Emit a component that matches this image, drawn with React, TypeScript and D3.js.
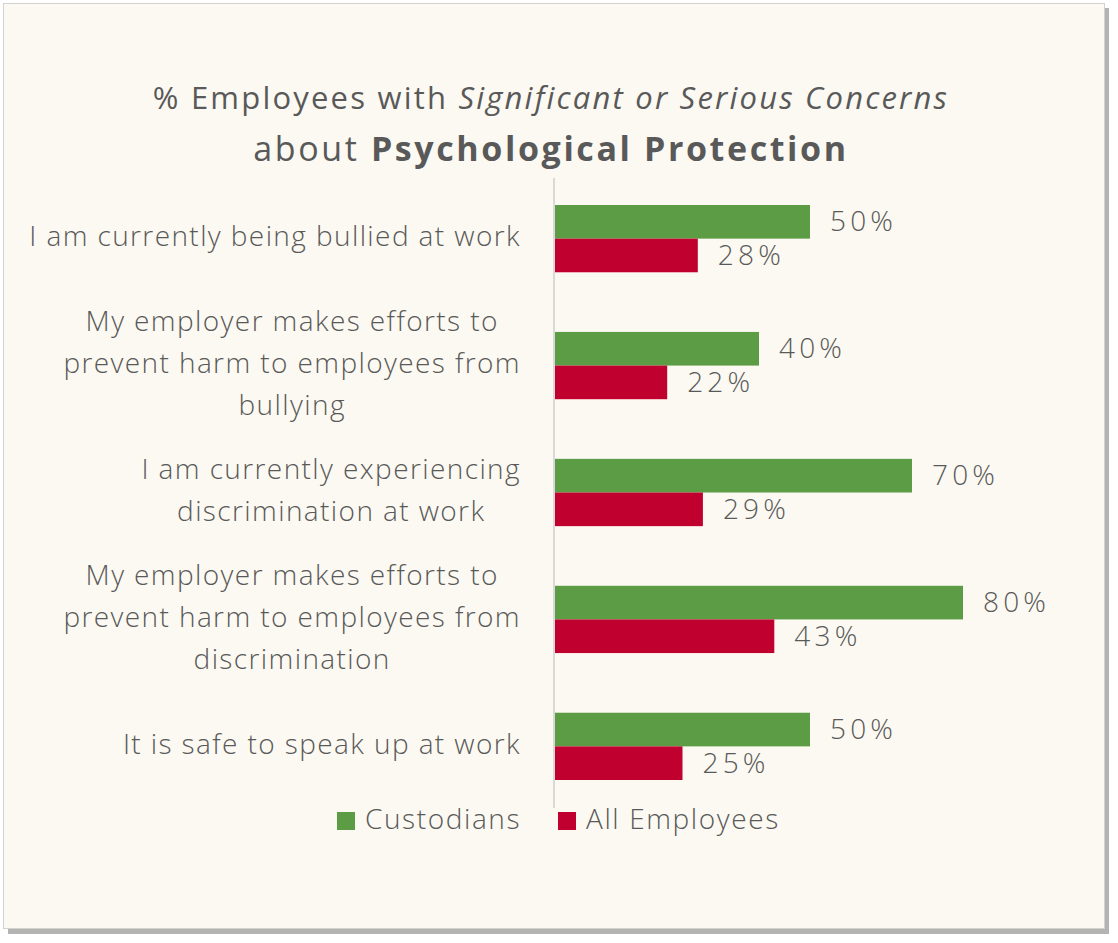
import React, { useEffect, useRef } from "react";
import * as d3 from "d3";

const categories = [
  ["I am currently being bullied at work"],
  ["My employer makes efforts to", "prevent harm to employees from", "bullying"],
  ["I am currently experiencing", "discrimination at work"],
  ["My employer makes efforts to", "prevent harm to employees from", "discrimination"],
  ["It is safe to speak up at work"],
];
const custodians = [50, 40, 70, 80, 50];
const allEmployees = [28, 22, 29, 43, 25];
const seriesNames = ["Custodians", "All Employees"];
const colors = ["#5B9C44", "#C0002F"];

const App = () => {
  const ref = useRef<SVGSVGElement>(null);

  useEffect(() => {
    const svg = d3.select(ref.current);
    svg.selectAll("*").remove();
    const font = "'Open Sans', sans-serif";
    const textColor = "#595959";

    // frame with shadow
    svg.append("rect").attr("x", 8).attr("y", 8).attr("width", 1101).attr("height", 926).attr("fill", "#b3b3b3");
    svg.append("rect").attr("x", 3.5).attr("y", 3.5).attr("width", 1101).attr("height", 925)
      .attr("fill", "#FCF9F2").attr("stroke", "#d4d2cc");

    // title
    const t1 = svg.append("text").attr("x", 551).attr("y", 109).attr("text-anchor", "middle")
      .attr("font-family", font).attr("font-size", 31).attr("fill", textColor).attr("letter-spacing", 2.2);
    t1.append("tspan").text("% Employees with ");
    t1.append("tspan").attr("font-style", "italic").text("Significant or Serious Concerns");
    const t2 = svg.append("text").attr("x", 551).attr("y", 161).attr("text-anchor", "middle")
      .attr("font-family", font).attr("font-size", 34).attr("fill", textColor).attr("letter-spacing", 2.6);
    t2.append("tspan").text("about ");
    t2.append("tspan").attr("font-weight", "bold").text("Psychological Protection");

    const left = 555;
    const x = d3.scaleLinear().domain([0, 100]).range([left, left + 510]);
    const y = d3.scaleBand<number>().domain(d3.range(categories.length)).range([205, 780]).paddingInner(0.47).paddingOuter(0);
    const sub = d3.scaleBand<number>().domain([0, 1]).range([0, y.bandwidth()]);

    const g = svg.append("g");
    const series = [custodians, allEmployees];
    series.forEach((vals, si) => {
      g.selectAll(`.bar${si}`).data(vals).enter().append("rect")
        .attr("x", x(0))
        .attr("y", (_, i) => (y(i) as number) + (sub(si) as number))
        .attr("width", d => x(d) - x(0))
        .attr("height", sub.bandwidth())
        .attr("fill", colors[si]);
      g.selectAll(`.val${si}`).data(vals).enter().append("text")
        .attr("x", d => x(d) + 20)
        .attr("y", (_, i) => (y(i) as number) + (sub(si) as number) + sub.bandwidth() / 2 + 2)
        .attr("dominant-baseline", "middle")
        .attr("font-family", font).attr("font-size", 28).attr("font-weight", 300)
        .attr("fill", textColor).attr("letter-spacing", 4.2)
        .text(d => `${d}%`);
    });

    // axis line
    svg.append("line").attr("x1", left - 1).attr("x2", left - 1).attr("y1", 178).attr("y2", 808)
      .attr("stroke", "#d9d9d9").attr("stroke-width", 2);

    // category labels
    const right = 521;
    const lh = 42;
    categories.forEach((lines, i) => {
      const cy = (y(i) as number) + y.bandwidth() / 2;
      const txts = lines.map((ln, j) =>
        svg.append("text")
          .attr("y", cy + (j - (lines.length - 1) / 2) * lh)
          .attr("dominant-baseline", "middle")
          .attr("font-family", font).attr("font-size", 28).attr("font-weight", 300)
          .attr("fill", textColor).attr("letter-spacing", 1.4)
          .text(ln)
      );
      const maxW = d3.max(txts, t => (t.node() as SVGTextElement).getComputedTextLength()) || 0;
      txts.forEach(t => t.attr("x", right - maxW / 2).attr("text-anchor", "middle"));
    });

    // legend
    const legX = [337, 558];
    seriesNames.forEach((name, i) => {
      svg.append("rect").attr("x", legX[i]).attr("y", 812).attr("width", 18).attr("height", 18).attr("fill", colors[i]);
      svg.append("text").attr("x", legX[i] + 28).attr("y", 822).attr("dominant-baseline", "middle")
        .attr("font-family", font).attr("font-size", 28).attr("font-weight", 300)
        .attr("fill", textColor).attr("letter-spacing", 1.6).text(name);
    });
  }, []);

  return <svg ref={ref} width={1118} height={943} style={{ position: "absolute", left: 0, top: 0 }} />;
};

export default App;
